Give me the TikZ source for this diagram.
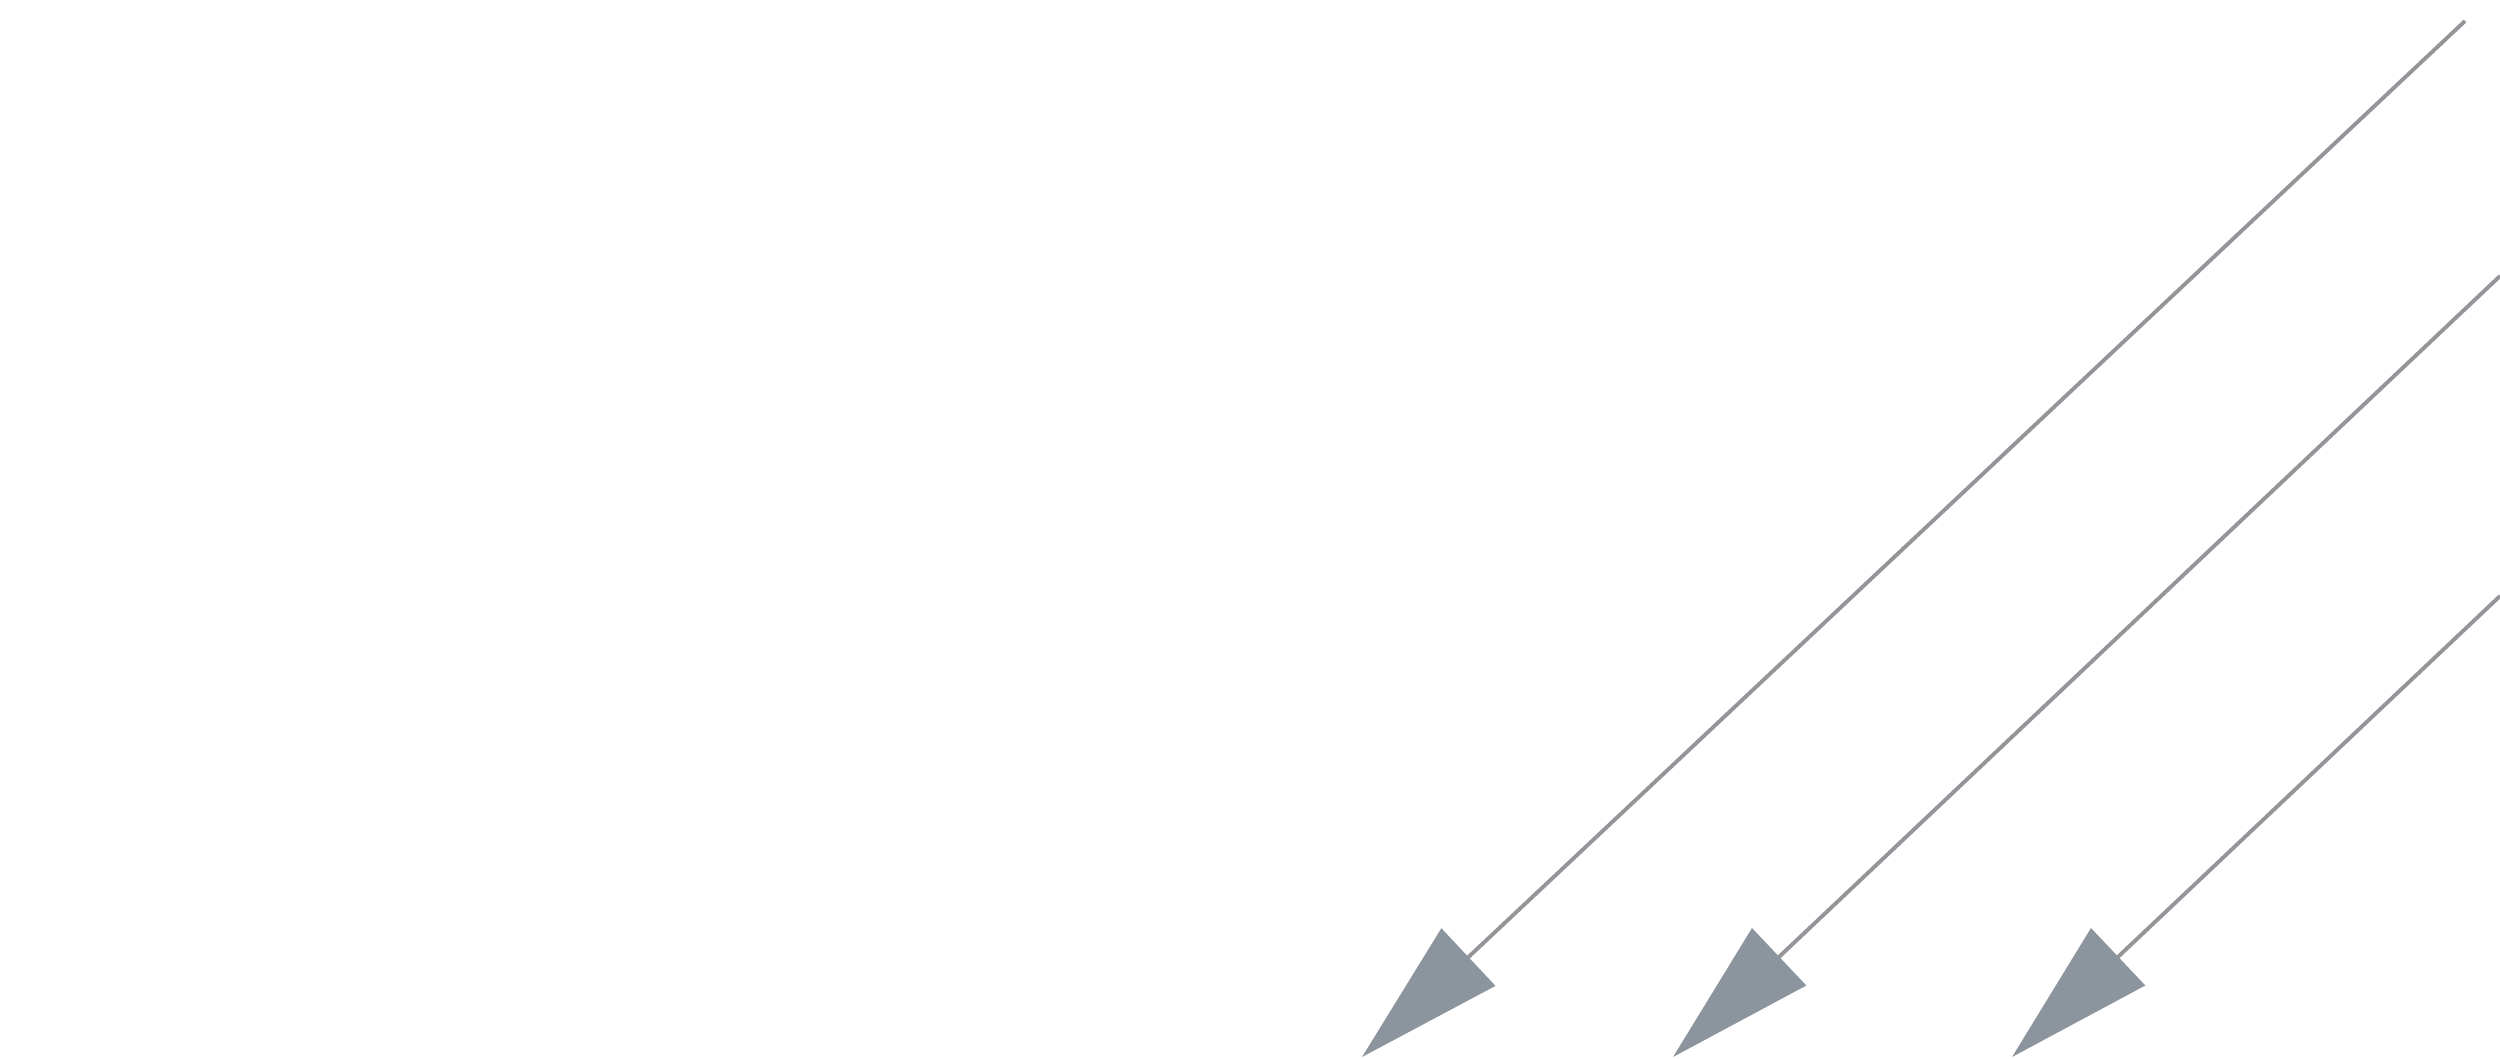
\documentclass[tikz,border=0pt]{standalone}
\usetikzlibrary{arrows.meta}

\definecolor{raygray}{HTML}{939598}
\definecolor{tipgray}{HTML}{8C959D}

\tikzset{
    ray/.style={draw=raygray, line width=1.1pt,
        -{Triangle[length=14.6mm, width=7.8mm, color=tipgray]}},
}

\begin{document}
\begin{tikzpicture}
    \useasboundingbox (0,0) rectangle (25,10.58);

    \coordinate (src1) at (24.65,10.37);
    \coordinate (src2) at (25,7.82);
    \coordinate (src3) at (25,4.62);
    \coordinate (dst1) at (13.62,0.01);
    \coordinate (dst2) at (16.73,0.01);
    \coordinate (dst3) at (20.12,0.01);

    \draw[ray] (src1) -- (dst1);
    \draw[ray] (src2) -- (dst2);
    \draw[ray] (src3) -- (dst3);
\end{tikzpicture}
\end{document}
